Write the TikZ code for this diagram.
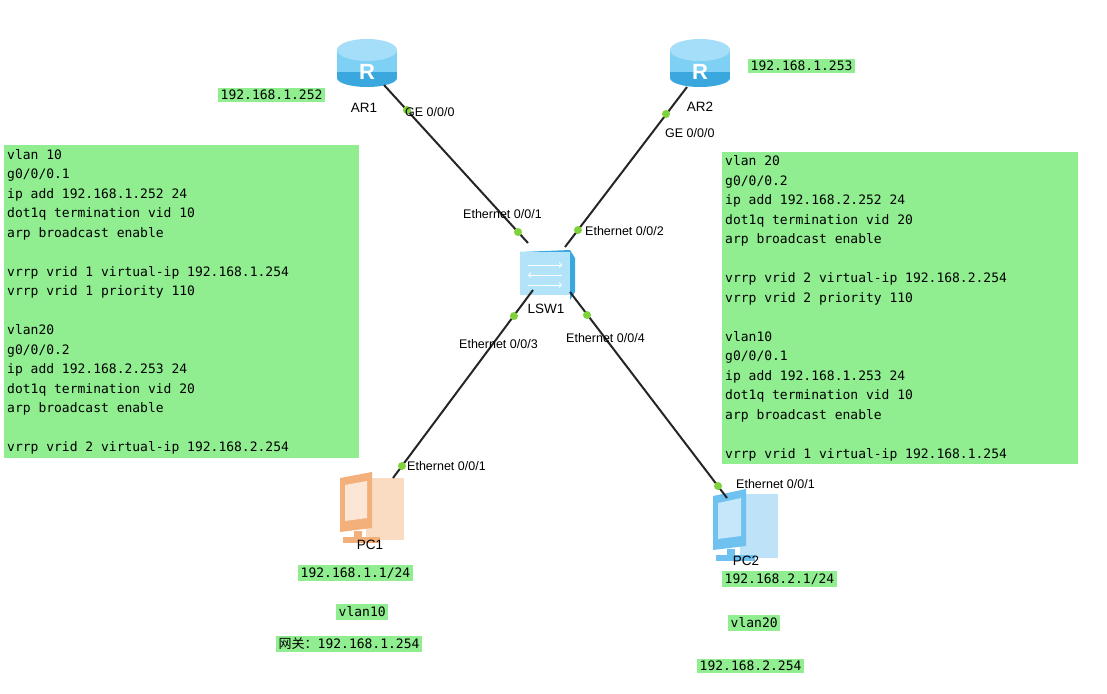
\documentclass[tikz,border=0pt]{standalone}
\usepackage{fontspec}
\setmainfont{Liberation Sans}
\newfontfamily\cfgmono{DejaVu Sans Mono}
\newfontfamily\cjk{Noto Sans CJK SC}
\definecolor{boxg}{HTML}{90EE90}
\definecolor{dotg}{HTML}{7ED23A}
\definecolor{rblue}{HTML}{7FD0F5}
\definecolor{rdark}{HTML}{3AA8DE}
\definecolor{pco}{HTML}{F4B07A}
\definecolor{pcb}{HTML}{6FC2F0}
\begin{document}
\begin{tikzpicture}[x=1pt,y=-1pt,
  cfg/.style={fill=boxg,inner sep=3pt,align=left,font=\cfgmono\fontsize{13}{19.5}\selectfont,text=black},
  lab/.style={fill=boxg,inner sep=2.5pt,anchor=west,font=\cfgmono\fontsize{13}{15}\selectfont},
  port/.style={font=\fontsize{12.5}{14}\selectfont,inner sep=1pt},
  devname/.style={font=\fontsize{13.5}{15}\selectfont,inner sep=1pt},
  dot/.style={circle,fill=dotg,inner sep=0pt,minimum size=8pt},
  link/.style={line width=2pt,black!85}]
\useasboundingbox (0,0) rectangle (1107,693);
% routers
\foreach \n/\x in {AR1/367,AR2/700}{
  \fill[rdark] (\x-30,55) rectangle (\x+30,78);
  \fill[rdark] (\x,78) ellipse (30pt and 9pt);
  \fill[rblue] (\x-30,50) rectangle (\x+30,72);
  \fill[rblue!70] (\x,50) ellipse (30pt and 11pt);
  \node[text=white,font=\bfseries\fontsize{22}{22}\selectfont] at (\x,72) {R};
  \node[inner sep=0pt,minimum width=60pt,minimum height=45pt] (\n) at (\x,62) {};
}
% switch
\fill[rdark] (520,252) -- (570,250) -- (575,258) -- (575,292) -- (570,300) -- (570,255) -- cycle;
\fill[rblue!60] (520,252) rectangle (570,295);
\draw[white,line width=1pt,->] (528,265) -- (562,265);
\draw[white,line width=1pt,<-] (528,275) -- (562,275);
\draw[white,line width=1pt,->] (528,285) -- (562,285);
\node[inner sep=0pt,minimum width=56pt,minimum height=50pt] (LSW1) at (546,274) {};
% PC1
\fill[pco!45] (366,478) rectangle (404,540);
\fill[pco] (340,478) -- (372,472) -- (372,528) -- (340,532) -- cycle;
\fill[white!70!pco] (345,485) -- (367,481) -- (367,518) -- (345,521) -- cycle;
\fill[pco] (354,531) rectangle (362,538);
\fill[pco] (343,537) rectangle (380,543);
\node[inner sep=0pt,minimum width=64pt,minimum height=70pt] (PC1) at (372,507) {};
% PC2
\fill[pcb!45] (740,494) rectangle (778,558);
\fill[pcb] (713,496) -- (746,489) -- (746,546) -- (713,550) -- cycle;
\fill[white!60!pcb] (718,503) -- (741,498) -- (741,536) -- (718,539) -- cycle;
\fill[pcb] (727,549) rectangle (735,556);
\fill[pcb] (716,555) rectangle (755,561);
\node[inner sep=0pt,minimum width=64pt,minimum height=72pt] (PC2) at (745,525) {};
% links
\coordinate (a1) at (384,85);
\coordinate (a2) at (687,87);
\coordinate (s1) at (528,243);
\coordinate (s2) at (565,247);
\coordinate (s3) at (533,290);
\coordinate (s4) at (570,292);
\coordinate (p1) at (393,478);
\coordinate (p2) at (727,498);
\draw[link] (a1) -- (s1);
\draw[link] (a2) -- (s2);
\draw[link] (s3) -- (p1);
\draw[link] (s4) -- (p2);
\foreach \p in {(407,110),(518,232),(578,230),(666,114),(514,316),(587,315),(402,466),(718,486)}
  \node[dot] at \p {};
% names
\node[devname] (nAR1) at (364,108) {AR1};
\node[devname] (nAR2) at (700,107) {AR2};
\node[devname] (nLSW) at (546,309) {LSW1};
\node[devname] (nPC1) at (370,545) {PC1};
\node[devname] (nPC2) at (746,561) {PC2};
% ports
\node[port,anchor=west] (q1) at (404,112) {GE 0/0/0};
\node[port,anchor=west] (q2) at (664,133) {GE 0/0/0};
\node[port,anchor=west] (q3) at (462,214) {Ethernet 0/0/1};
\node[port,anchor=west] (q4) at (584,231) {Ethernet 0/0/2};
\node[port,anchor=west] (q5) at (458,344) {Ethernet 0/0/3};
\node[port,anchor=west] (q6) at (565,338) {Ethernet 0/0/4};
\node[port,anchor=west] (q7) at (406,466) {Ethernet 0/0/1};
\node[port,anchor=west] (q8) at (735,484) {Ethernet 0/0/1};
% config boxes
\node[cfg,anchor=north west,minimum width=355pt,minimum height=313pt] (cL) at (4,145) {\parbox[t]{349pt}{vlan 10\\g0/0/0.1\\ip add 192.168.1.252 24\\dot1q termination vid 10\\arp broadcast enable\\[19.5pt]vrrp vrid 1 virtual-ip 192.168.1.254\\vrrp vrid 1 priority 110\\[19.5pt]vlan20\\g0/0/0.2\\ip add 192.168.2.253 24\\dot1q termination vid 20\\arp broadcast enable\\[19.5pt]vrrp vrid 2 virtual-ip 192.168.2.254}};
\node[cfg,anchor=north west,minimum width=356pt,minimum height=312pt] (cR) at (722,152) {\parbox[t]{350pt}{vlan 20\\g0/0/0.2\\ip add 192.168.2.252 24\\dot1q termination vid 20\\arp broadcast enable\\[19.5pt]vrrp vrid 2 virtual-ip 192.168.2.254\\vrrp vrid 2 priority 110\\[19.5pt]vlan10\\g0/0/0.1\\ip add 192.168.1.253 24\\dot1q termination vid 10\\arp broadcast enable\\[19.5pt]vrrp vrid 1 virtual-ip 192.168.1.254}};
% labels
\node[lab] (l1) at (218,95) {192.168.1.252};
\node[lab] (l2) at (748,66) {192.168.1.253};
\node[lab] (l3) at (298,573) {192.168.1.1/24};
\node[lab] (l4) at (336,612) {vlan10};
\node[lab] (l5) at (276,644) {{\cjk 网关：}192.168.1.254};
\node[lab] (l6) at (722,579) {192.168.2.1/24};
\node[lab] (l7) at (728,623) {vlan20};
\node[lab] (l8) at (697,666) {192.168.2.254};
\end{tikzpicture}
\end{document}
